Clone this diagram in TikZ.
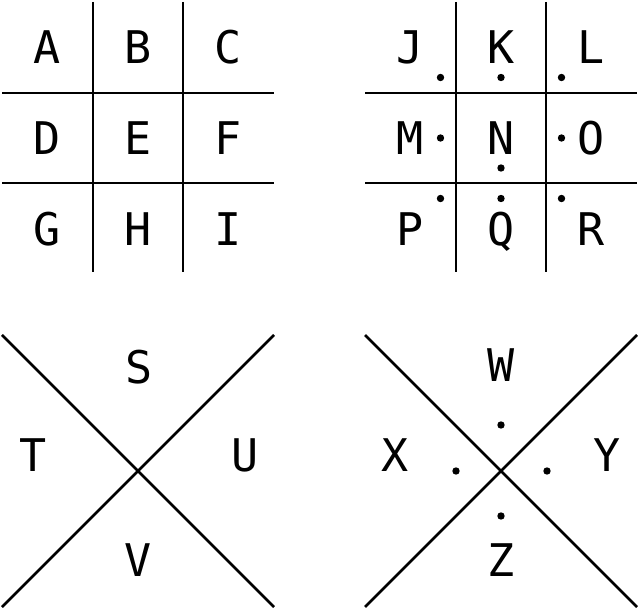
\documentclass[tikz,border=0pt]{standalone}
\usepackage{fontspec}
\setmonofont{DejaVu Sans Mono}
\newcommand{\DrawGrid}{%
  \draw[bar] (91,0) -- (91,270) (181,0) -- (181,270)
             (0,91) -- (272,91) (0,181) -- (272,181);
}
\newcommand{\DrawCross}{%
  \draw[bar] (0,0) -- (272,272) (0,272) -- (272,0);
}
\newcommand{\plainelems}{0/0/A, 1/0/B, 2/0/C, 0/1/D, 1/1/E, 2/1/F, 0/2/G, 1/2/H, 2/2/I}
\newcommand{\dotelems}{0/0/J, 1/0/K, 2/0/L, 0/1/M, 1/1/N, 2/1/O, 0/2/P, 1/2/Q, 2/2/R}
\tikzset{
  letter/.style={font=\ttfamily\fontsize{45}{45}\selectfont, text height=32.8pt,
    text depth=0pt, inner sep=0pt, anchor=center},
  bar/.style={line width=2.8pt},
  pip/.style={fill=black}
}

\begin{document}
\begin{tikzpicture}[x=1pt,y=-1pt]
  \useasboundingbox (0,0) rectangle (640,609);
  % grid without dots
  \begin{scope}[shift={(2,2)}]
    \DrawGrid
    \foreach \i/\j/\l in \plainelems {
      \node[letter] (\l) at ({45.5+90.5*\i},{45+91*\j}) {\l};
    }
  \end{scope}
  % grid with dots
  \begin{scope}[shift={(365,2)}]
    \DrawGrid
    \foreach \i/\j/\l in \dotelems {
      \node[letter] (\l) at ({45.5+90.5*\i},{45+91*\j}) {\l};
    }
    \foreach \i/\j in {0/0, 1/0, 2/0, 0/1, 2/1, 0/2, 1/2, 2/2} {
      \fill[pip] ({45.5+90.5*\i+30*(1-\i)},{45+91*\j+30.5*(1-\j)}) circle (3.7);
    }
    \fill[pip] (136,166) circle (3.7); % under N
  \end{scope}
  % cross without dots
  \begin{scope}[shift={(2,335)}]
    \DrawCross
    \node[letter] (S) at (137,32) {S};
    \node[letter] (T) at (31,120) {T};
    \node[letter] (U) at (243,120) {U};
    \node[letter] (V) at (136,225) {V};
  \end{scope}
  % cross with dots
  \begin{scope}[shift={(365,335)}]
    \DrawCross
    \node[letter] (W) at (136,30) {W};
    \node[letter] (X) at (30,120) {X};
    \node[letter] (Y) at (242,120) {Y};
    \node[letter] (Z) at (136,225) {Z};
    \foreach \x/\y in {136/90, 91/136, 182/136, 136/181} {
      \fill[pip] (\x,\y) circle (3.7);
    }
  \end{scope}
\end{tikzpicture}
\end{document}
